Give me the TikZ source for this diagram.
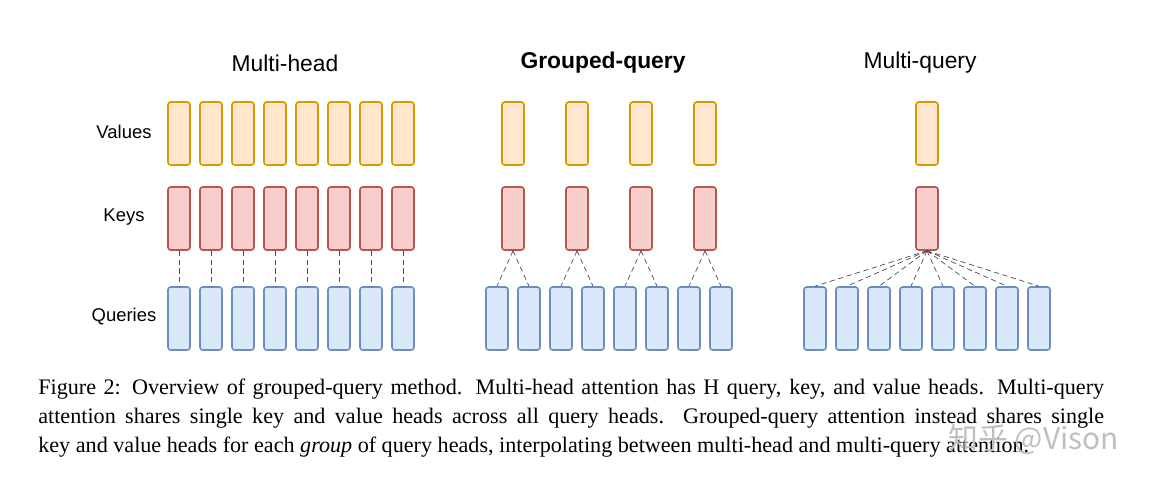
\documentclass[tikz,border=0pt]{standalone}
\usepackage{fontspec}
\setmainfont{Liberation Serif}
\setsansfont{Liberation Sans}
\newfontfamily\cjkf{Noto Sans CJK SC}
\definecolor{vF}{HTML}{FFE6CC}\definecolor{vD}{HTML}{D79B00}
\definecolor{kF}{HTML}{F8CECC}\definecolor{kD}{HTML}{B85450}
\definecolor{qF}{HTML}{DAE8FC}\definecolor{qD}{HTML}{6C8EBF}
\begin{document}
\begin{tikzpicture}[x=0.02cm,y=-0.02cm,
  head/.style={draw,line width=0.9pt,rounded corners=1.5pt,minimum width=0.44cm,minimum height=1.26cm,inner sep=0},
  val/.style={head,fill=vF,draw=vD},
  key/.style={head,fill=kF,draw=kD},
  qry/.style={head,fill=qF,draw=qD},
  dl/.style={densely dashed,line width=0.4pt,black!70},
  lab/.style={font=\sffamily\fontsize{10.5}{12}\selectfont},
  ttl/.style={font=\sffamily\fontsize{13}{15}\selectfont},
  captxt/.style={anchor=west,font=\fontsize{12.6}{15}\selectfont,inner sep=0}]
\useasboundingbox (0,0) rectangle (1159,489);
\node[lab] (lv) at (124,132) {Values};
\node[lab] (lk) at (124,217) {Keys};
\node[lab] (lq) at (124,317) {Queries};
\node[ttl] (t1) at (285,63) {Multi-head};
\node[ttl,font=\sffamily\bfseries\fontsize{13}{15}\selectfont] (t2) at (603,63) {Grouped-query};
\node[ttl] (t3) at (920,63) {Multi-query};
\foreach \i in {0,...,7}{
  \pgfmathsetmacro{\xx}{179+32*\i}
  \node[val] (mv\i) at (\xx,133.5) {};
  \node[key] (mk\i) at (\xx,218.5) {};
  \node[qry] (mq\i) at (\xx,318.5) {};
  \draw[dl] (mk\i.south) -- (mq\i.north);
  \pgfmathsetmacro{\xm}{815+32*\i}
  \node[qry] (qq\i) at (\xm,318.5) {};
  \pgfmathsetmacro{\xg}{497+32*\i}
  \node[qry] (gq\i) at (\xg,318.5) {};
}
\foreach \j in {0,...,3}{
  \pgfmathsetmacro{\xx}{513+64*\j}
  \node[val] (gv\j) at (\xx,133.5) {};
  \node[key] (gk\j) at (\xx,218.5) {};
  \pgfmathtruncatemacro{\a}{2*\j}
  \pgfmathtruncatemacro{\b}{2*\j+1}
  \draw[dl] (gk\j.south) -- (gq\a.north);
  \draw[dl] (gk\j.south) -- (gq\b.north);
}
\node[val] (qv) at (927,133.5) {};
\node[key] (qk) at (927,218.5) {};
\foreach \i in {0,...,7}{\draw[dl] (qk.south) -- (qq\i.north);}
\node[captxt] (c1) at (38,389) {\makebox[21.32cm][s]{Figure 2: Overview of grouped-query method. Multi-head attention has H query, key, and value heads. Multi-query}};
\node[captxt] (c2) at (38,418) {\makebox[21.32cm][s]{attention shares single key and value heads across all query heads. Grouped-query attention instead shares single}};
\node[captxt] (c3) at (38,447) {key and value heads for each \textit{group} of query heads, interpolating between multi-head and multi-query attention.};
\node[anchor=west,font=\cjkf\fontsize{17}{20}\selectfont,text=black!25,inner sep=0] (wm) at (948,440) {知乎 @Vison};
\end{tikzpicture}
\end{document}
